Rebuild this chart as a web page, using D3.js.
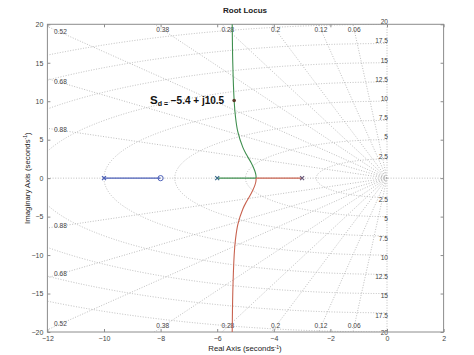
<!DOCTYPE html>
<html><head><meta charset="utf-8">
<script src="https://cdn.jsdelivr.net/npm/d3@7"></script>
<style>body{margin:0;background:#fff}svg{display:block}</style>
</head><body>
<svg id="c" width="474" height="355"></svg>
<script>
// ---- data ----
const realTicks = [-12,-10,-8,-6,-4,-2,0,2];
const imagTicks = [-20,-15,-10,-5,0,5,10,15,20];
const dampingValues = [0.06,0.12,0.2,0.28,0.38,0.52,0.68,0.88];
const freqValues = [2.5,5,7.5,10,12.5,15,17.5,20];
const blueReal = [-10,-8];
const blueImag = [0,0];
const greenReal = [-6,-4.623,-4.636,-4.676,-4.8,-4.957,-5.094,-5.27,-5.355,-5.40,-5.45,-5.47,-5.48];
const greenImag = [0,0,0.5,1,2,3,4,6,8,10,15,20,22];
const redReal = [-3,-4.623,-4.636,-4.676,-4.8,-4.957,-5.094,-5.27,-5.355,-5.40,-5.45,-5.47,-5.48];
const redImag = [0,0,-0.5,-1,-2,-3,-4,-6,-8,-10,-15,-20,-22];
const poleReal = [-10,-6,-3];
const poleColors = ["#4b5fb8","#3b6b8b","#6b5b7b"];
const zeroReal = [-8];
const sdReal = [-5.4];
const sdImag = [10.1];

(function(){
const svg = d3.select("#c");
const L=47.4,R=443.6,T=24.3,B=332;
const x = d3.scaleLinear().domain([-12,2]).range([L,R]);
const y = d3.scaleLinear().domain([-20,20]).range([B,T]);
const font = "'Liberation Sans', Arial, Helvetica, sans-serif";

svg.append("defs").append("clipPath").attr("id","clip")
  .append("rect").attr("x",L).attr("y",T).attr("width",R-L).attr("height",B-T);

const grid = svg.append("g").attr("clip-path","url(#clip)")
  .attr("stroke","#adadad").attr("stroke-width",0.8).attr("fill","none")
  .attr("stroke-dasharray","1,1.6");

grid.append("line").attr("x1",x(-12)).attr("x2",x(2)).attr("y1",y(0)).attr("y2",y(0));
grid.append("line").attr("x1",x(0)).attr("x2",x(0)).attr("y1",y(-20)).attr("y2",y(20));

dampingValues.forEach(z=>{
  const wd = Math.sqrt(1-z*z);
  [1,-1].forEach(s=>{
    const far = 40;
    grid.append("line").attr("x1",x(0)).attr("y1",y(0))
      .attr("x2",x(-z*far)).attr("y2",y(s*wd*far));
  });
});
freqValues.forEach(w=>{
  const rx = x(0)-x(-w), ry = y(0)-y(w);
  grid.append("path").attr("d",
    `M${x(0)},${y(w)} A${rx},${ry} 0 0 0 ${x(0)},${y(-w)}`);
});

const gl = svg.append("g").attr("font-family",font).attr("font-size",6.6).attr("fill","#444");
dampingValues.forEach(z=>{
  const t = Math.sqrt(1-z*z)/z;
  const topPix = T+5.5;
  const yd = y.invert(topPix);
  let xd = -yd/t;
  let px, pyU, pyL;
  if (xd > -11.6) { px = x(xd); pyU = topPix; pyL = B-6; }
  else { px = L+13; const xx = x.invert(px); pyU = y(-xx*t); pyL = y(xx*t); }
  const lab = String(z);
  gl.append("text").attr("x",px).attr("y",pyU).attr("text-anchor","middle").attr("dominant-baseline","middle").text(lab);
  gl.append("text").attr("x",px).attr("y",pyL).attr("text-anchor","middle").attr("dominant-baseline","middle").text(lab);
});
freqValues.forEach(w=>{
  gl.append("text").attr("x",x(0)+1).attr("y",y(w)-2).attr("text-anchor","end").attr("dominant-baseline","middle").text(String(w));
  gl.append("text").attr("x",x(0)+1).attr("y",y(-w)+(w===20?1.5:3)).attr("text-anchor","end").attr("dominant-baseline","middle").text(String(w));
});

const axc = "#8c8c8c";
const gB = svg.append("g").attr("transform",`translate(0,${B})`)
  .call(d3.axisBottom(x).tickValues(realTicks).tickSizeInner(-3).tickSizeOuter(0).tickPadding(4.5).tickFormat(d3.format("d")));
const gL = svg.append("g").attr("transform",`translate(${L},0)`)
  .call(d3.axisLeft(y).tickValues(imagTicks).tickSizeInner(-3).tickSizeOuter(0).tickPadding(4).tickFormat(d3.format("d")));
const gT = svg.append("g").attr("transform",`translate(0,${T})`)
  .call(d3.axisTop(x).tickValues(realTicks).tickSizeInner(-3).tickSizeOuter(0).tickFormat(""));
const gR = svg.append("g").attr("transform",`translate(${R},0)`)
  .call(d3.axisRight(y).tickValues(imagTicks).tickSizeInner(-3).tickSizeOuter(0).tickFormat(""));
[gB,gL,gT,gR].forEach(g=>{
  g.select(".domain").remove();
  g.selectAll("line").attr("stroke",axc);
  g.selectAll("text").attr("fill","#444").attr("font-size",7).attr("font-family",font);
});
svg.append("rect").attr("x",L).attr("y",T).attr("width",R-L).attr("height",B-T)
  .attr("fill","none").attr("stroke",axc).attr("stroke-width",1);

const lineLin = d3.line().x(d=>x(d[0])).y(d=>y(d[1]));
const lineCR = d3.line().x(d=>x(d[0])).y(d=>y(d[1])).curve(d3.curveCatmullRom);
const plot = svg.append("g").attr("clip-path","url(#clip)").attr("fill","none").attr("stroke-width",1.1);
plot.append("path").attr("d",lineLin(d3.zip(blueReal,blueImag))).attr("stroke","#4b5fb8");
const gPts = d3.zip(greenReal,greenImag);
const rPts = d3.zip(redReal,redImag);
plot.append("path").attr("d",lineLin(gPts.slice(0,2))).attr("stroke","#3f8f4f");
plot.append("path").attr("d",lineCR(gPts.slice(1))).attr("stroke","#3f8f4f");
plot.append("path").attr("d",lineLin(rPts.slice(0,2))).attr("stroke","#c8624f");
plot.append("path").attr("d",lineCR(rPts.slice(1))).attr("stroke","#c8624f");

const m = svg.append("g");
poleReal.forEach((p,i)=>{
  const cx=x(p), cy=y(0), s=2;
  m.append("path").attr("d",`M${cx-s},${cy-s}L${cx+s},${cy+s}M${cx-s},${cy+s}L${cx+s},${cy-s}`)
    .attr("stroke",poleColors[i]).attr("stroke-width",1.2);
});
zeroReal.forEach(zv=>{
  m.append("circle").attr("cx",x(zv)).attr("cy",y(0)).attr("r",2.6)
    .attr("fill","none").attr("stroke","#4b5fb8").attr("stroke-width",1);
});
m.append("circle").attr("cx",x(sdReal[0])).attr("cy",y(sdImag[0])).attr("r",1.8).attr("fill","#5a3a28");
const sd = svg.append("text").attr("x",150).attr("y",y(sdImag[0])+4)
  .attr("font-family",font).attr("font-weight","bold").attr("font-size",11.5).attr("fill","#111");
sd.append("tspan").text("S");
sd.append("tspan").attr("font-size",7).attr("dy",1.5).text("d =");
sd.append("tspan").attr("font-size",10).attr("dy",-1.5).text(" \u22125.4 + j10.5");

svg.append("text").attr("x",245).attr("y",13).attr("text-anchor","middle")
  .attr("font-family",font).attr("font-weight","bold").attr("font-size",8).attr("fill","#222").text("Root Locus");
const xl = svg.append("text").attr("x",245).attr("y",351).attr("text-anchor","middle")
  .attr("font-family",font).attr("font-size",7.8).attr("fill","#222");
xl.append("tspan").text("Real Axis (seconds");
xl.append("tspan").attr("font-size",5).attr("dy",-2.5).text("-1");
xl.append("tspan").attr("dy",2.5).text(")");
const yl = svg.append("text").attr("transform",`translate(30,${(T+B)/2}) rotate(-90)`).attr("text-anchor","middle")
  .attr("font-family",font).attr("font-size",7.8).attr("fill","#222");
yl.append("tspan").text("Imaginary Axis (seconds");
yl.append("tspan").attr("font-size",5).attr("dy",-3).text("-1");
yl.append("tspan").attr("dy",3).text(")");
})();
</script>
</body></html>
